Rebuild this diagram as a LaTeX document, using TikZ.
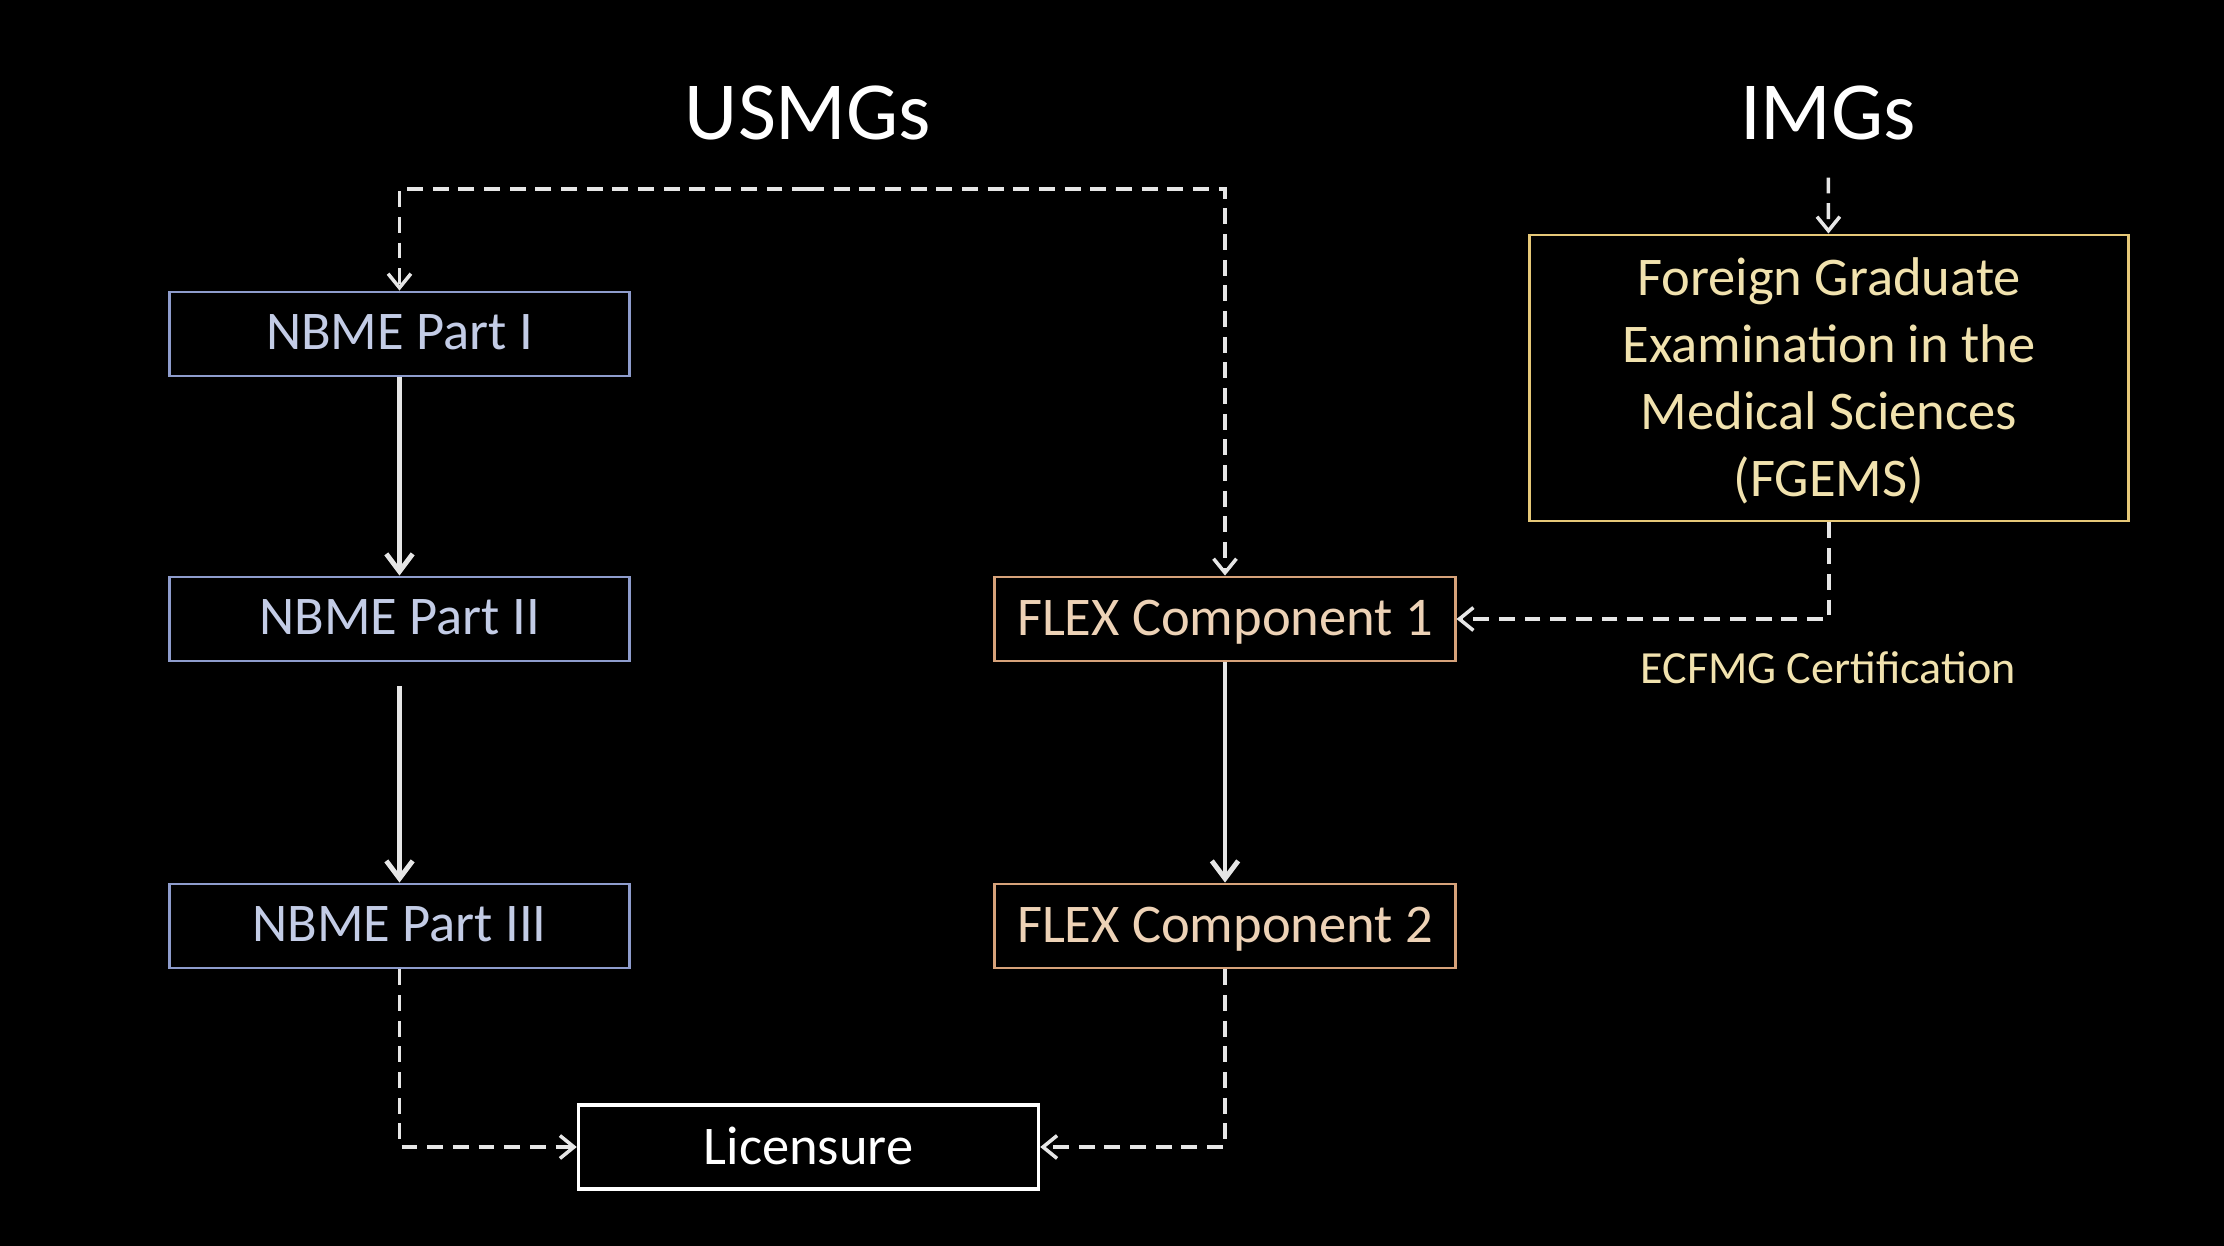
\documentclass[tikz,border=0pt]{standalone}
\usepackage{fontspec}
\setmainfont{Carlito}
\usetikzlibrary{arrows.meta}

\definecolor{nbmeline}{HTML}{8E9CCC}
\definecolor{nbmetext}{HTML}{C3CCE6}
\definecolor{flexline}{HTML}{D6A27A}
\definecolor{flextext}{HTML}{EDD2B6}
\definecolor{fgline}{HTML}{E6C878}
\definecolor{fgtext}{HTML}{F1E2AE}
\definecolor{linkgray}{HTML}{E6E6E6}

\tikzset{
  exambox/.style={draw, line width=0.8pt, minimum width=4.6cm, minimum height=0.84cm,
    inner sep=0pt, text depth=0.03cm, font=\fontsize{15.5}{18}\selectfont},
  nbme/.style={exambox, draw=nbmeline, text=nbmetext},
  flex/.style={exambox, draw=flexline, text=flextext},
  flow/.style={linkgray, line width=1.4pt, -{Straight Barb[length=5pt,width=7.5pt]}},
  dashflow/.style={linkgray, line width=1pt, dash pattern=on 4.5pt off 2.8pt,
    -{Straight Barb[length=4pt,width=6.5pt]}},
  heading/.style={text=white, font=\fontsize{23.5}{28}\selectfont}
}

\begin{document}
\begin{tikzpicture}[x=0.01cm, y=-0.01cm]
  % background and frame
  \fill[black] (0,0) rectangle (2224,1246);
  \useasboundingbox (0,0) rectangle (2224,1246);
  % headings
  \node[heading] (usmg) at (808,113) {USMGs};
  \node[heading] (img) at (1828,113) {IMGs};
  % usmg track
  \node[nbme] (n1) at (399.5,334) {NBME Part I};
  \node[nbme] (n2) at (399.5,619) {NBME Part II};
  \node[nbme] (n3) at (399.5,926) {NBME Part III};
  % flex track
  \node[flex] (f1) at (1225,619) {FLEX Component 1};
  \node[flex] (f2) at (1225,926) {FLEX Component 2};
  % img box
  \node[draw=fgline, line width=0.8pt, text=fgtext, minimum width=5.98cm, minimum height=2.86cm,
    align=center, text depth=0.02cm, font=\fontsize{15.5}{19}\selectfont] (fg) at (1829,378)
    {Foreign Graduate\\Examination in the\\Medical Sciences\\(FGEMS)};
  \node[text=fgtext, font=\fontsize{13.1}{16}\selectfont] (ecfmg) at (1828,668) {ECFMG Certification};
  % outcome
  \node[exambox, draw=white, text=white, line width=0.9pt] (lic) at (808.5,1147) {Licensure};
  % links
  \coordinate (split) at (808,189);
  \draw[dashflow] (split) -| (n1.north);
  \draw[dashflow] (split) -| (f1.north);
  \draw[flow] (n1) -- (n2);
  \draw[flow, shorten <=0.24cm] (n2) -- (n3);
  \draw[flow] (f1) -- (f2);
  \draw[dashflow, shorten <=0.25cm] (img) -- (fg);
  \draw[dashflow] (fg.south) |- (f1.east);
  \draw[dashflow] (n3.south) |- (lic.west);
  \draw[dashflow] (f2.south) |- (lic.east);
\end{tikzpicture}
\end{document}
